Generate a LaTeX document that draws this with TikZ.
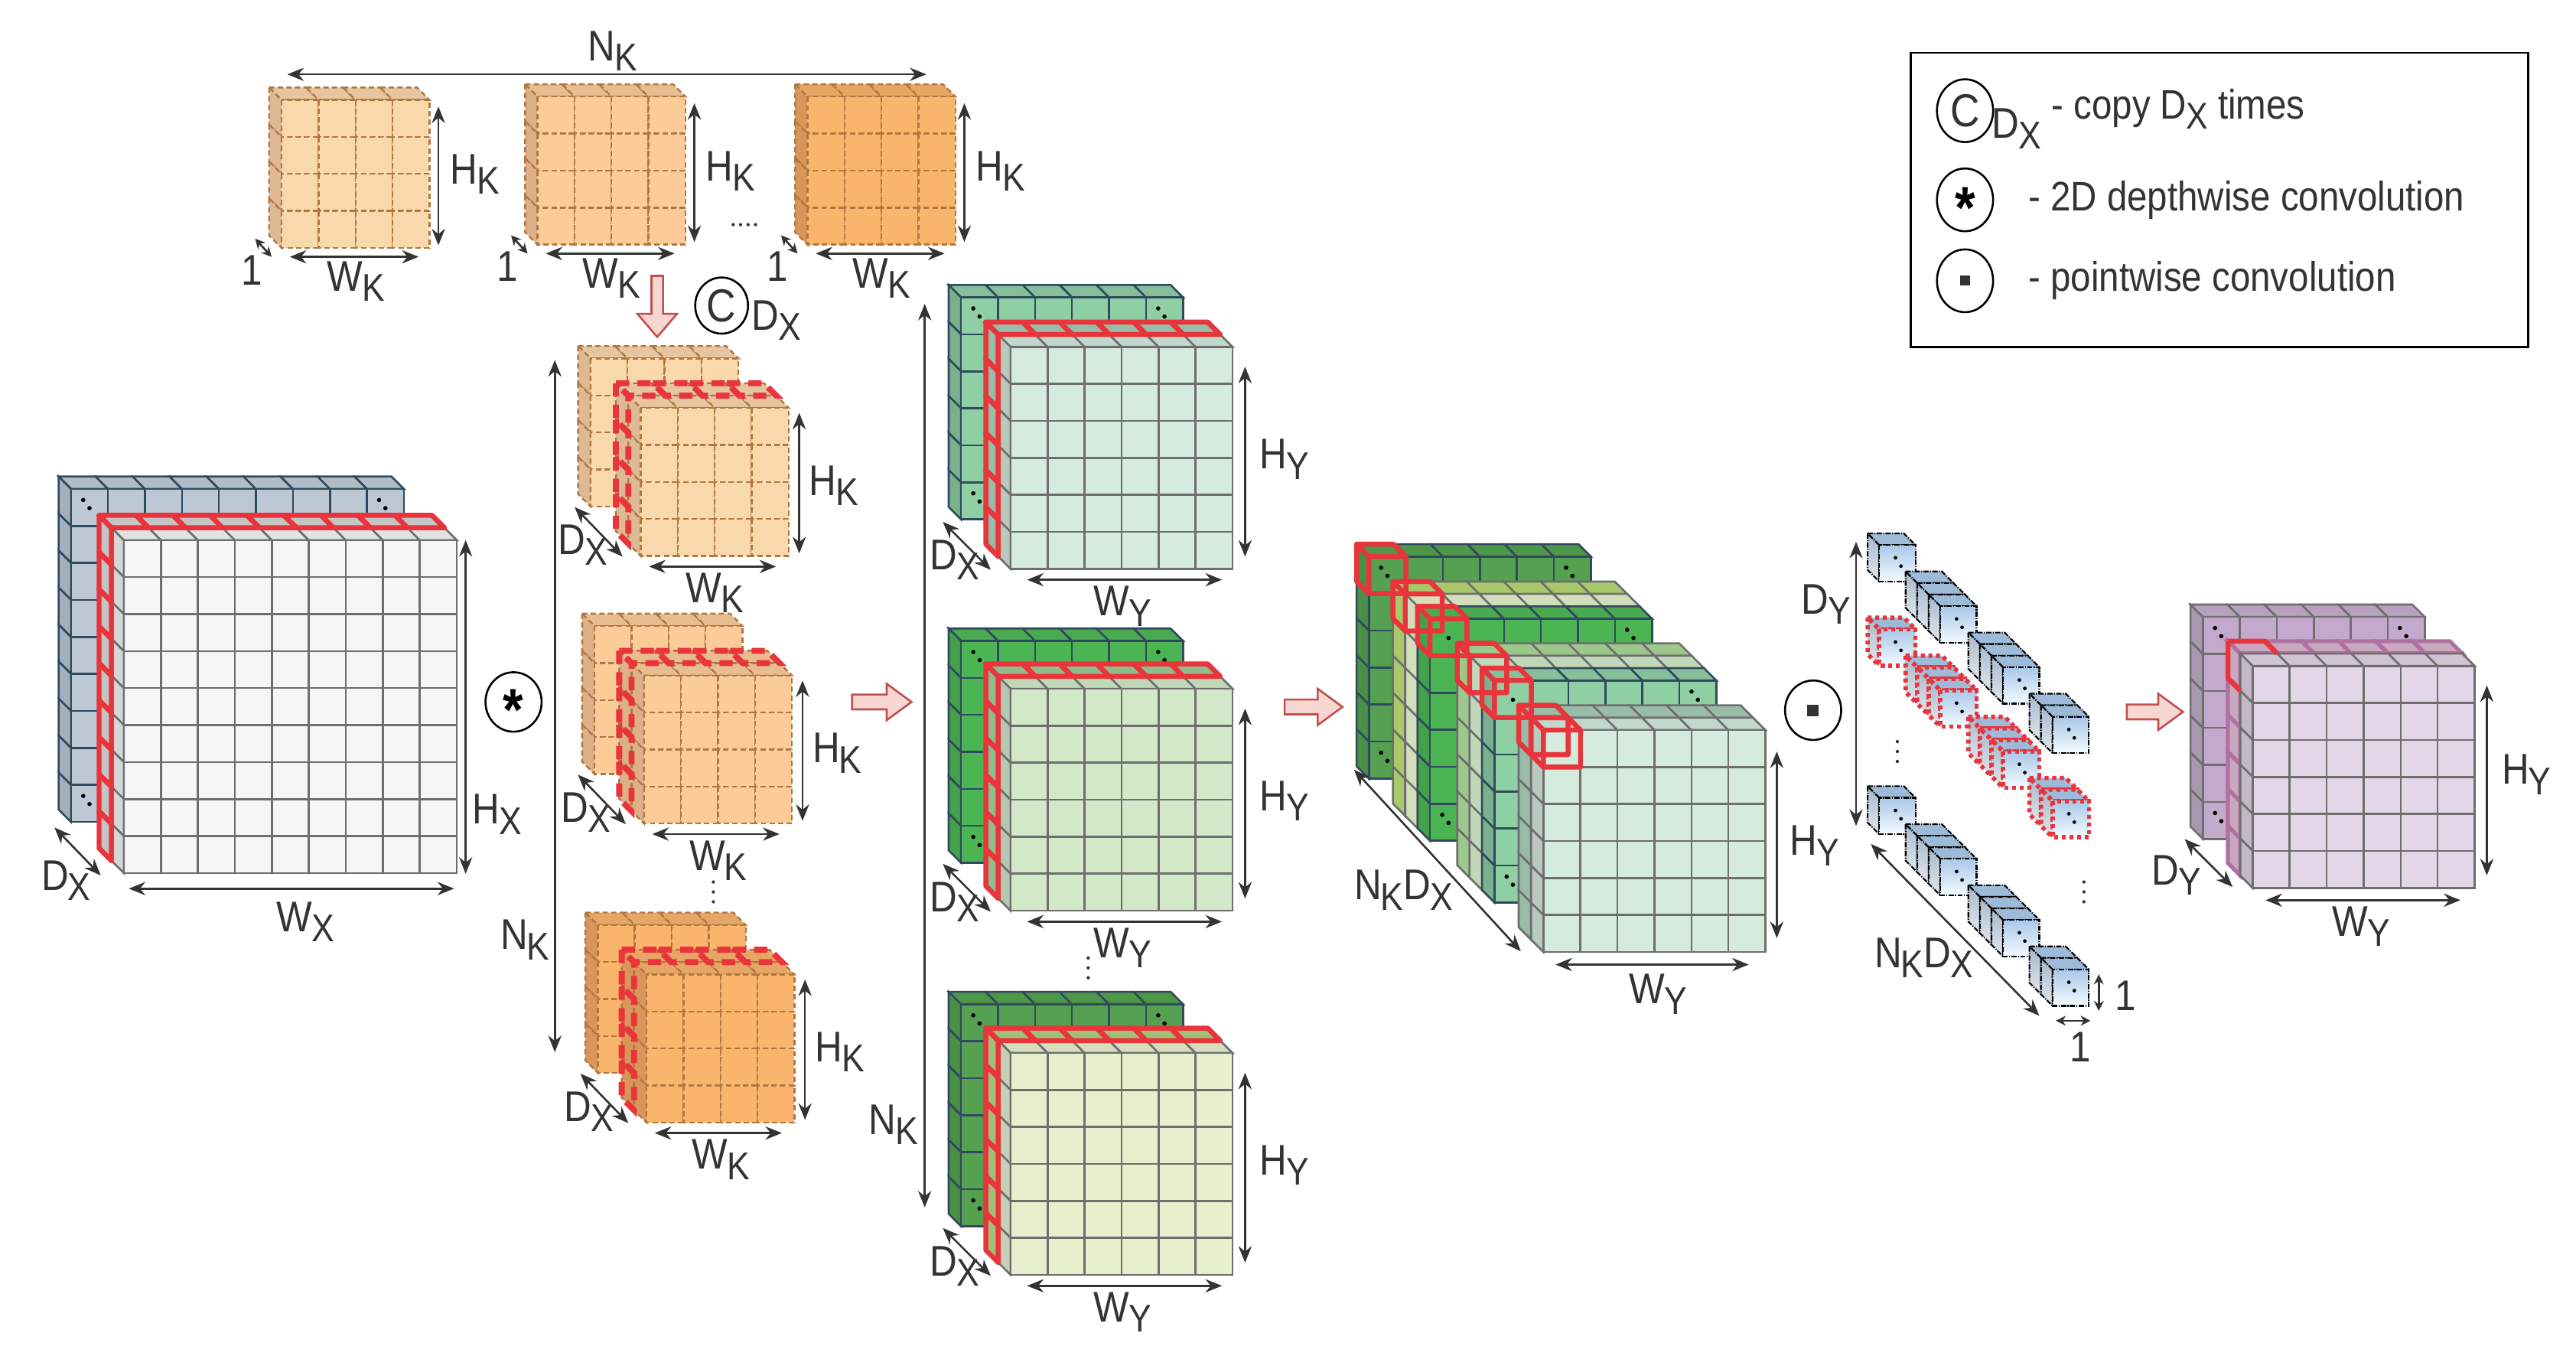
\documentclass[tikz,border=0pt]{standalone}
\usepackage{fontspec}
\setmainfont[FakeStretch=0.88]{Liberation Sans}
\usetikzlibrary{arrows.meta}
\definecolor{xbF}{HTML}{BCC8D4}\definecolor{xbS}{HTML}{A3AFBA}\definecolor{xbT}{HTML}{B0BCC6}
\definecolor{navy}{HTML}{2F4A5F}\definecolor{gl}{HTML}{6E6E6E}
\definecolor{wF}{HTML}{F5F7F5}\definecolor{wS}{HTML}{D6D6D6}\definecolor{wT}{HTML}{E2E2E2}\definecolor{wS2}{HTML}{C4C4C4}
\definecolor{redc}{HTML}{E8343A}
\definecolor{kF1}{HTML}{F9D8AC}\definecolor{kS1}{HTML}{DDB994}\definecolor{kT1}{HTML}{E6C5A0}
\definecolor{kF2}{HTML}{FBCB98}\definecolor{kS2}{HTML}{DDB088}\definecolor{kT2}{HTML}{E8BD90}
\definecolor{kF3}{HTML}{F9B56B}\definecolor{kS3}{HTML}{D9955A}\definecolor{kT3}{HTML}{E6A766}
\definecolor{kl}{HTML}{B07840}
\definecolor{g1F}{HTML}{8ECFA3}\definecolor{g1S}{HTML}{7AB08E}\definecolor{g1T}{HTML}{86BF9A}
\definecolor{g2F}{HTML}{4CB553}\definecolor{g2S}{HTML}{45A04B}\definecolor{g2T}{HTML}{4AAA50}
\definecolor{g3F}{HTML}{56A052}\definecolor{g3S}{HTML}{4A8F46}\definecolor{g3T}{HTML}{4E9648}
\definecolor{y1F}{HTML}{D4EBDD}\definecolor{y1S}{HTML}{B8CABE}\definecolor{y1T}{HTML}{C2D8CA}\definecolor{y1R}{HTML}{98BCA8}
\definecolor{y2F}{HTML}{D2E8C8}\definecolor{y2S}{HTML}{B5C8B0}\definecolor{y2T}{HTML}{C0D8B8}\definecolor{y2R}{HTML}{8FBC8A}
\definecolor{y3F}{HTML}{E6F0CC}\definecolor{y3S}{HTML}{C6D0B6}\definecolor{y3T}{HTML}{D2DEBC}\definecolor{y3R}{HTML}{A0C078}
\definecolor{olF}{HTML}{A8C86A}\definecolor{paF}{HTML}{D4DEBB}\definecolor{lgF}{HTML}{9DC88C}\definecolor{lpF}{HTML}{C0D8B9}
\definecolor{pF}{HTML}{C3AACD}\definecolor{pS}{HTML}{A997B0}\definecolor{pT}{HTML}{B8A0C0}
\definecolor{qF}{HTML}{E2D6E8}\definecolor{qS}{HTML}{C4B8C8}\definecolor{qT}{HTML}{D0C4D4}\definecolor{qR}{HTML}{C8A8BE}\definecolor{qL}{HTML}{B070A0}
\definecolor{pkF}{HTML}{F8D7D3}\definecolor{pkL}{HTML}{C0504D}
\definecolor{txt}{HTML}{333333}
\definecolor{fT}{HTML}{9DBAD8}\definecolor{fS1}{HTML}{A8B8C8}\definecolor{fS2}{HTML}{E0E8F0}
\definecolor{fF1}{HTML}{A9C8E8}\definecolor{fF2}{HTML}{F4FAFF}
\tikzset{
 bline/.style={draw=navy,line width=0.6pt},
 gline/.style={draw=gl,line width=0.6pt},
 kline/.style={draw=kl,line width=0.55pt,dash pattern=on 1.6pt off 1pt},
 redline/.style={draw=redc,line width=1.5pt,line join=round},
 reddash/.style={draw=redc,line width=1.8pt,dash pattern=on 4pt off 2.5pt},
 qline/.style={draw=qL,line width=1.2pt},
 dim/.style={draw=txt,line width=0.6pt,{Stealth[length=5pt,width=4pt]}-{Stealth[length=5pt,width=4pt]}},
 lab/.style={font=\fontsize{13}{14}\selectfont,text=txt,inner sep=0pt},
 leg/.style={font=\fontsize{12.5}{14}\selectfont,text=txt,inner sep=0pt,anchor=west},
 fcb/.style={draw=black,line width=0.5pt,dash pattern=on 1.6pt off 0.4pt on 0.3pt off 0.4pt},
 fcr/.style={draw=redc,line width=1.3pt,dash pattern=on 1.2pt off 1.1pt},
}
\def\cs{22.4}\def\co{7.5}
\newcommand\LB[2]{#1\kern-0.2pt\raisebox{-0.45ex}{\scalebox{0.9}{#2}}}
\newcommand\cubelayer[8]{%
 \foreach \i in {1,...,#3}{\filldraw[fill=#7,#8] ({#1+(\i-1)*\cs-\co},{#2-\co}) -- ++(\cs,0) -- ++(\co,\co) -- ++(-\cs,0) -- cycle;}
 \foreach \j in {1,...,#4}{\filldraw[fill=#6,#8] ({#1-\co},{#2+(\j-1)*\cs-\co}) -- ++(0,\cs) -- ++(\co,\co) -- ++(0,-\cs) -- cycle;}
 \foreach \i in {1,...,#3}{\foreach \j in {1,...,#4}{\filldraw[fill=#5,#8] ({#1+(\i-1)*\cs},{#2+(\j-1)*\cs}) rectangle ++(\cs,\cs);}}}
\newcommand\redlayer[5]{%
 \foreach \i in {1,...,#3}{\draw[#5] ({#1+(\i-1)*\cs-\co},{#2-\co}) -- ++(\cs,0) -- ++(\co,\co) -- ++(-\cs,0) -- cycle;}
 \foreach \j in {1,...,#4}{\draw[#5] ({#1-\co},{#2+(\j-1)*\cs-\co}) -- ++(0,\cs) -- ++(\co,\co) -- ++(0,-\cs) -- cycle;}}
\newcommand\redcube[2]{%
 \draw[redline] ({#1-\co},{#2-\co}) -- ++(\cs,0) -- ++(\co,\co) -- ++(0,\cs) -- ++(-\cs,0) -- ++(-\co,-\co) -- cycle;
 \draw[redline] ({#1},{#2}) -- ++(\cs,0) ({#1},{#2}) -- ++(0,\cs) ({#1},{#2}) -- ++(-\co,-\co);}
\newcommand\dts[2]{\fill[black] ({#1+0.33*\cs},{#2+0.3*\cs}) circle[radius=1.3]; \fill[black] ({#1+0.5*\cs},{#2+0.52*\cs}) circle[radius=1.3];}
\newcommand\cornerdots[4]{\dts{#1}{#2}\dts{#1+(#3-1)*\cs}{#2}\dts{#1}{#2+(#4-1)*\cs}}
\def\fs{22}\def\fo{7}
\newcommand\fcube[3]{%
 \filldraw[fill=fT,#3] ({#1-\fo},{#2-\fo}) -- ++(\fs,0) -- ++(\fo,\fo) -- ++(-\fs,0) -- cycle;
 \shadedraw[top color=fS1,bottom color=fS2,#3] ({#1-\fo},{#2-\fo}) -- ++(0,\fs) -- ++(\fo,\fo) -- ++(0,-\fs) -- cycle;
 \shadedraw[top color=fF1,bottom color=fF2,#3] ({#1},{#2}) rectangle ++(\fs,\fs);
 \fill[black] ({#1+0.45*\fs},{#2+0.35*\fs}) circle[radius=1.1]; \fill[black] ({#1+0.6*\fs},{#2+0.58*\fs}) circle[radius=1.1];}
\newcommand\fgroup[4]{\foreach \k in {#3,...,1}{\fcube{#1-(\k-1)*\fo}{#2-(\k-1)*\fo}{#4}}}
\newcommand\ffilter[2]{\fcube{1138}{330+#1}{#2}\fgroup{1175}{367+#1}{3}{#2}\fgroup{1213}{404+#1}{3}{#2}\fgroup{1243}{434+#1}{2}{#2}}
\newcommand\pinkarrow[3]{\filldraw[fill=pkF,draw=pkL,line width=0.6pt] (#1,#3-4.5) -- (#2-15,#3-4.5) -- (#2-15,#3-11) -- (#2,#3) -- (#2-15,#3+11) -- (#2-15,#3+4.5) -- (#1,#3+4.5) -- cycle;}
\newcommand\vdts[2]{\foreach \k in {-1,0,1}{\fill[txt] (#1,#2+\k*6) circle[radius=1];}}
\begin{document}
\begin{tikzpicture}[x=0.5pt,y=-0.5pt]
\useasboundingbox (0,0) rectangle (1560,821);
\fill[white] (0,0) rectangle (1560,821);
% ---------- X ----------
\cubelayer{43}{296}{9}{9}{xbF}{xbS}{xbT}{bline}
\cornerdots{43}{296}{9}{9}
\cubelayer{67.5}{319.5}{9}{9}{wF}{wS2}{wS2}{gline}
\cubelayer{75}{327}{9}{9}{wF}{wS}{wT}{gline}
\redlayer{67.5}{319.5}{9}{9}{redline}
\draw[dim] (33,501) -- (61,530);
\node[lab] (dx0) at (40,533) {\LB{D}{X}};
\draw[dim] (78,538) -- (275,538);
\node[lab] (wx) at (185,558) {\LB{W}{X}};
\draw[dim] (282,327) -- (282,529);
\node[lab] (hx) at (301,493) {\LB{H}{X}};
\draw[line width=0.6pt] (311,425) ellipse [x radius=17, y radius=18];
\node[font=\fontsize{18}{18}\selectfont\bfseries,inner sep=0pt] (star) at (311,430) {*};
% ---------- top kernels ----------
\cubelayer{170.5}{60.5}{4}{4}{kF1}{kS1}{kT1}{kline}
\cubelayer{325.5}{58.5}{4}{4}{kF2}{kS2}{kT2}{kline}
\cubelayer{489}{58.5}{4}{4}{kF3}{kS3}{kT3}{kline}
\draw[dim] (174,45) -- (561,45);
\node[lab] (nk0) at (371,31) {\LB{N}{K}};
\foreach \xx/\yy/\n in {170.5/60.5/a,325.5/58.5/b,489/58.5/c}{
 \draw[dim] (\xx+95,\yy+4) -- (\xx+95,\yy+88);
 \node[lab] (hk\n) at (\xx+117,\yy+45) {\LB{H}{K}};
 \draw[dim] (\xx+5,\yy+95) -- (\xx+83,\yy+95);
 \node[lab] (wk\n) at (\xx+45,\yy+110) {\LB{W}{K}};
 \draw[dim,{Stealth[length=3pt,width=3pt]}-{Stealth[length=3pt,width=3pt]}] (\xx-16,\yy+84) -- (\xx-6,\yy+95);
 \node[lab] (one\n) at (\xx-18,\yy+103) {1};
}
\foreach \k in {0,1,2,3}{\fill[txt] (444+\k*4.5,136) circle[radius=1];}
\filldraw[fill=pkF,draw=pkL,line width=0.6pt] (394.5,167) -- (401.5,167) -- (401.5,190) -- (410,190) -- (398,204) -- (386,190) -- (394.5,190) -- cycle;
\draw[line width=0.6pt] (437,185) ellipse [x radius=16, y radius=17];
\node[lab,font=\fontsize{14}{14}\selectfont] (cc) at (437,185) {C};
\node[lab] (dxc) at (470,194) {\LB{D}{X}};
% ---------- kernel copies ----------
\cubelayer{357.6}{217}{4}{4}{kF1}{kS1}{kT1}{kline}
\cubelayer{380.5}{239.5}{4}{4}{kF1}{kS1}{kT1}{kline}
\cubelayer{388}{247}{4}{4}{kF1}{kS1}{kT1}{kline}
\redlayer{380.5}{239.5}{4}{4}{reddash}
\cubelayer{360}{379}{4}{4}{kF2}{kS2}{kT2}{kline}
\cubelayer{382.5}{401.5}{4}{4}{kF2}{kS2}{kT2}{kline}
\cubelayer{390}{409}{4}{4}{kF2}{kS2}{kT2}{kline}
\redlayer{382.5}{401.5}{4}{4}{reddash}
\cubelayer{362}{560}{4}{4}{kF3}{kS3}{kT3}{kline}
\cubelayer{384}{582.5}{4}{4}{kF3}{kS3}{kT3}{kline}
\cubelayer{391.5}{590}{4}{4}{kF3}{kS3}{kT3}{kline}
\redlayer{384}{582.5}{4}{4}{reddash}
\foreach \yy/\xx/\n in {247/388/a,409/390/b,590/391.5/c}{
 \draw[dim] (\xx+96,\yy+3) -- (\xx+96,\yy+88);
 \node[lab] (hkc\n) at (\xx+117,\yy+47) {\LB{H}{K}};
 \draw[dim] (\xx+5,\yy+96) -- (\xx+82,\yy+96);
 \node[lab] (wkc\n) at (\xx+45,\yy+112) {\LB{W}{K}};
 \draw[dim] (\xx-40,\yy+60) -- (\xx-11,\yy+90);
 \node[lab] (dxk\n) at (\xx-35,\yy+83) {\LB{D}{X}};
}
\vdts{432}{540}
\draw[dim] (336,218) -- (336,637);
\node[lab] (nk1) at (318,569) {\LB{N}{K}};
\pinkarrow{516}{552}{425}
% ---------- Y tensors ----------
\cubelayer{582}{180}{6}{6}{g1F}{g1S}{g1T}{bline}
\cornerdots{582}{180}{6}{6}
\cubelayer{604.5}{202.5}{6}{6}{y1F}{y1R}{y1R}{gline}
\cubelayer{612}{210}{6}{6}{y1F}{y1S}{y1T}{gline}
\redlayer{604.5}{202.5}{6}{6}{redline}
\cubelayer{582}{388}{6}{6}{g2F}{g2S}{g2T}{bline}
\cornerdots{582}{388}{6}{6}
\cubelayer{604.5}{409.5}{6}{6}{y2F}{y2R}{y2R}{gline}
\cubelayer{612}{417}{6}{6}{y2F}{y2S}{y2T}{gline}
\redlayer{604.5}{409.5}{6}{6}{redline}
\cubelayer{582}{608}{6}{6}{g3F}{g3S}{g3T}{bline}
\cornerdots{582}{608}{6}{6}
\cubelayer{604.5}{630}{6}{6}{y3F}{y3R}{y3R}{gline}
\cubelayer{612}{637.5}{6}{6}{y3F}{y3S}{y3T}{gline}
\redlayer{604.5}{630}{6}{6}{redline}
\foreach \yy/\n in {210/a,417/b,637.5/c}{
 \draw[dim] (754,\yy+12) -- (754,\yy+127);
 \node[lab] (hy\n) at (778,\yy+68) {\LB{H}{Y}};
 \draw[dim] (622,\yy+141) -- (740,\yy+141);
 \node[lab] (wy\n) at (680,\yy+157) {\LB{W}{Y}};
 \draw[dim] (571,\yy+106) -- (600,\yy+135);
 \node[lab] (dxy\n) at (578,\yy+129) {\LB{D}{X}};
}
\vdts{659}{586}
\draw[dim] (560,184) -- (560,731);
\node[lab] (nk2) at (541,681) {\LB{N}{K}};
\pinkarrow{778}{813}{428}
% ---------- concatenated ----------
\cubelayer{829}{337}{6}{6}{g3F}{g3S}{g3T}{bline}
\cornerdots{829}{337}{6}{6}
\cubelayer{851}{359.6}{6}{6}{olF}{olF}{olF}{gline}
\cubelayer{858.5}{367.1}{6}{6}{paF}{paF}{paF}{gline}
\cubelayer{866}{374.6}{6}{6}{g2F}{g2S}{g2T}{bline}
\cornerdots{866}{374.6}{6}{6}
\cubelayer{890}{397}{6}{6}{lgF}{lgF}{lgF}{gline}
\cubelayer{897.5}{404.5}{6}{6}{lpF}{lpF}{lpF}{gline}
\cubelayer{905}{412}{6}{6}{g1F}{g1S}{g1T}{bline}
\cornerdots{905}{412}{6}{6}
\cubelayer{927.2}{434.5}{6}{6}{y1R}{y1R}{y1R}{gline}
\cubelayer{934.7}{442}{6}{6}{y1F}{y1S}{y1T}{gline}
\redcube{829}{337}
\redcube{851}{359.6}\redcube{866}{374.6}
\redcube{890}{397}\redcube{905}{412}
\redcube{927.2}{434.5}\redcube{934.7}{442}
\draw[dim] (1076,455) -- (1076,568);
\node[lab] (hyc) at (1099,512) {\LB{H}{Y}};
\draw[dim] (942,584) -- (1059,584);
\node[lab] (wyc) at (1004,602) {\LB{W}{Y}};
\draw[dim] (820,466) -- (921,576);
\node[lab] (nkdx) at (850,539) {\LB{N}{K}\LB{D}{X}};
\draw[line width=0.6pt] (1098,430) ellipse [x radius=17, y radius=18];
\fill[txt] (1094.5,426.5) rectangle (1101.5,433.5);
% ---------- pointwise filters ----------
\ffilter{0}{fcb}
\ffilter{51}{fcr}
\ffilter{153}{fcb}
\vdts{1149}{455}
\vdts{1262}{540}
\draw[dim] (1124,328) -- (1124,500);
\node[lab] (dy) at (1106,366) {\LB{D}{Y}};
\draw[dim] (1133,511) -- (1235,615);
\node[lab] (nkdx2) at (1165,580) {\LB{N}{K}\LB{D}{X}};
\draw[dim,{Stealth[length=3pt,width=3pt]}-{Stealth[length=3pt,width=3pt]}] (1271,590) -- (1271,612);
\node[lab] (onev) at (1287,603) {1};
\draw[dim,{Stealth[length=3pt,width=3pt]}-{Stealth[length=3pt,width=3pt]}] (1245,618) -- (1266,618);
\node[lab] (oneh) at (1260,634) {1};
\pinkarrow{1288}{1322}{431}
% ---------- output ----------
\cubelayer{1334}{373.5}{6}{6}{pF}{pS}{pT}{gline}
\cornerdots{1334}{373.5}{6}{6}
\cubelayer{1356.7}{395.7}{6}{6}{qF}{qR}{qR}{qline}
\cubelayer{1364.2}{403.2}{6}{6}{qF}{qS}{qT}{gline}
\draw[redline] (1349.2,388.2) -- ++(\cs,0) -- ++(\co,\co) (1349.2,388.2) -- ++(0,\cs) -- ++(\co,\co);
\draw[dim] (1506,415) -- (1506,530);
\node[lab] (hyo) at (1530,469) {\LB{H}{Y}};
\draw[dim] (1372,545) -- (1490,545);
\node[lab] (wyo) at (1430,561) {\LB{W}{Y}};
\draw[dim] (1323,508) -- (1352,537);
\node[lab] (dyo) at (1318,530) {\LB{D}{Y}};
% ---------- legend ----------
\draw[line width=0.6pt] (1157,32) rectangle (1531,210);
\draw[line width=0.6pt] (1190,67) ellipse [x radius=17, y radius=19];
\node[lab,font=\fontsize{14}{14}\selectfont] (lc) at (1190,67) {C};
\node[lab,anchor=west] (ldx) at (1206,78) {\LB{D}{X}};
\node[leg] (l1) at (1242,66) {- copy \LB{D}{X} times};
\draw[line width=0.6pt] (1190,121) ellipse [x radius=17, y radius=19];
\node[font=\fontsize{18}{18}\selectfont\bfseries,inner sep=0pt] (ls) at (1190,126) {*};
\node[leg] (l2) at (1228,121) {- 2D depthwise convolution};
\draw[line width=0.6pt] (1190,170) ellipse [x radius=17, y radius=19];
\fill[txt] (1187,167) rectangle (1193,173);
\node[leg] (l3) at (1228,170) {- pointwise convolution};
\end{tikzpicture}
\end{document}
